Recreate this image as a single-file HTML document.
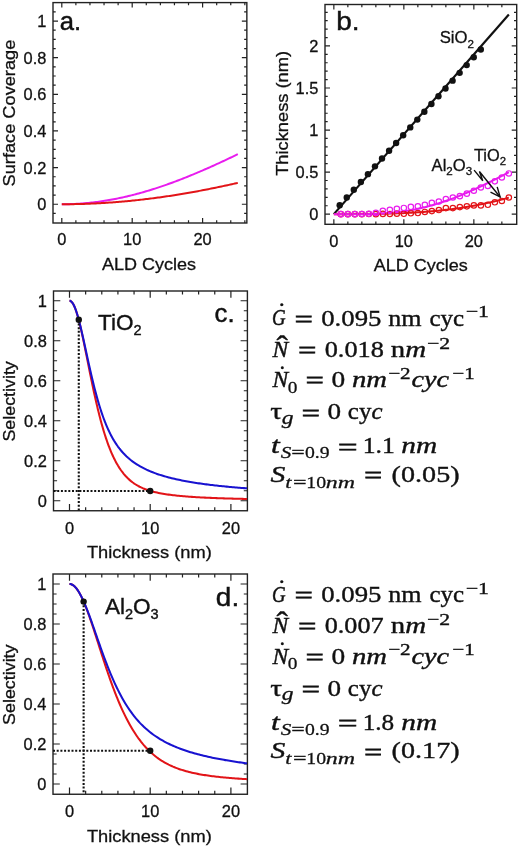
<!DOCTYPE html>
<html><head><meta charset="utf-8"><title>ALD nucleation model figure</title>
<style>
html,body{margin:0;padding:0;background:#fff}
svg{display:block;filter:blur(0.4px)}
.s{font-family:'Liberation Sans', 'DejaVu Sans', sans-serif}
.r{font-family:'Liberation Serif', 'DejaVu Serif', serif}
</style></head><body>
<svg width="520" height="847" viewBox="0 0 520 847">
<rect width="520" height="847" fill="#fff"/>
<rect x="53.0" y="2.6" width="193.85" height="220.4" fill="none" stroke="#222" stroke-width="1.4"/>
<path d="M61.80 223.0v-5.0M61.80 2.6v5.0M75.88 223.0v-2.7M75.88 2.6v2.7M89.96 223.0v-2.7M89.96 2.6v2.7M104.04 223.0v-2.7M104.04 2.6v2.7M118.12 223.0v-2.7M118.12 2.6v2.7M132.20 223.0v-5.0M132.20 2.6v5.0M146.28 223.0v-2.7M146.28 2.6v2.7M160.36 223.0v-2.7M160.36 2.6v2.7M174.44 223.0v-2.7M174.44 2.6v2.7M188.52 223.0v-2.7M188.52 2.6v2.7M202.60 223.0v-5.0M202.60 2.6v5.0M216.68 223.0v-2.7M216.68 2.6v2.7M230.76 223.0v-2.7M230.76 2.6v2.7M244.84 223.0v-2.7M244.84 2.6v2.7M53.0 213.41h2.7M246.85 213.41h-2.7M53.0 204.25h5.0M246.85 204.25h-5.0M53.0 195.09h2.7M246.85 195.09h-2.7M53.0 185.93h2.7M246.85 185.93h-2.7M53.0 176.77h2.7M246.85 176.77h-2.7M53.0 167.61h5.0M246.85 167.61h-5.0M53.0 158.45h2.7M246.85 158.45h-2.7M53.0 149.29h2.7M246.85 149.29h-2.7M53.0 140.13h2.7M246.85 140.13h-2.7M53.0 130.97h5.0M246.85 130.97h-5.0M53.0 121.81h2.7M246.85 121.81h-2.7M53.0 112.65h2.7M246.85 112.65h-2.7M53.0 103.49h2.7M246.85 103.49h-2.7M53.0 94.33h5.0M246.85 94.33h-5.0M53.0 85.17h2.7M246.85 85.17h-2.7M53.0 76.01h2.7M246.85 76.01h-2.7M53.0 66.85h2.7M246.85 66.85h-2.7M53.0 57.69h5.0M246.85 57.69h-5.0M53.0 48.53h2.7M246.85 48.53h-2.7M53.0 39.37h2.7M246.85 39.37h-2.7M53.0 30.21h2.7M246.85 30.21h-2.7M53.0 21.05h5.0M246.85 21.05h-5.0M53.0 11.89h2.7M246.85 11.89h-2.7" stroke="#222" stroke-width="1.2" fill="none"/>
<text class="s" transform="translate(61.80,245.40)" font-size="16.4" text-anchor="middle" fill="#111" stroke="#111" stroke-width="0.30" vector-effect="non-scaling-stroke">0</text>
<text class="s" transform="translate(132.20,245.40)" font-size="16.4" text-anchor="middle" fill="#111" stroke="#111" stroke-width="0.30" vector-effect="non-scaling-stroke">10</text>
<text class="s" transform="translate(202.60,245.40)" font-size="16.4" text-anchor="middle" fill="#111" stroke="#111" stroke-width="0.30" vector-effect="non-scaling-stroke">20</text>
<text class="s" transform="translate(46.40,210.15)" font-size="16.4" text-anchor="end" fill="#111" stroke="#111" stroke-width="0.30" vector-effect="non-scaling-stroke">0</text>
<text class="s" transform="translate(46.40,173.51)" font-size="16.4" text-anchor="end" fill="#111" stroke="#111" stroke-width="0.30" vector-effect="non-scaling-stroke">0.2</text>
<text class="s" transform="translate(46.40,136.87)" font-size="16.4" text-anchor="end" fill="#111" stroke="#111" stroke-width="0.30" vector-effect="non-scaling-stroke">0.4</text>
<text class="s" transform="translate(46.40,100.23)" font-size="16.4" text-anchor="end" fill="#111" stroke="#111" stroke-width="0.30" vector-effect="non-scaling-stroke">0.6</text>
<text class="s" transform="translate(46.40,63.59)" font-size="16.4" text-anchor="end" fill="#111" stroke="#111" stroke-width="0.30" vector-effect="non-scaling-stroke">0.8</text>
<text class="s" transform="translate(46.40,26.95)" font-size="16.4" text-anchor="end" fill="#111" stroke="#111" stroke-width="0.30" vector-effect="non-scaling-stroke">1</text>
<text class="s" transform="translate(101.96,270.00) scale(1.036,1)" font-size="17.4" fill="#111" stroke="#111" stroke-width="0.31" vector-effect="non-scaling-stroke">ALD Cycles</text>
<text class="s" transform="translate(15.10,186.42) rotate(-90) scale(1.047,1)" font-size="17.4" fill="#111" stroke="#111" stroke-width="0.31" vector-effect="non-scaling-stroke">Surface Coverage</text>
<path d="M61.80 204.25L63.28 204.25L64.76 204.23L66.24 204.21L67.72 204.18L69.19 204.15L70.67 204.10L72.15 204.05L73.63 203.99L75.11 203.92L76.59 203.84L78.07 203.75L79.55 203.66L81.03 203.55L82.51 203.44L83.98 203.32L85.46 203.20L86.94 203.06L88.42 202.92L89.90 202.77L91.38 202.61L92.86 202.44L94.34 202.26L95.82 202.08L97.30 201.89L98.77 201.69L100.25 201.48L101.73 201.27L103.21 201.04L104.69 200.81L106.17 200.57L107.65 200.33L109.13 200.07L110.61 199.81L112.09 199.54L113.56 199.26L115.04 198.98L116.52 198.69L118.00 198.39L119.48 198.08L120.96 197.77L122.44 197.44L123.92 197.11L125.40 196.78L126.88 196.43L128.35 196.08L129.83 195.72L131.31 195.36L132.79 194.99L134.27 194.61L135.75 194.22L137.23 193.83L138.71 193.42L140.19 193.02L141.67 192.60L143.14 192.18L144.62 191.76L146.10 191.32L147.58 190.88L149.06 190.43L150.54 189.98L152.02 189.52L153.50 189.06L154.98 188.58L156.46 188.10L157.93 187.62L159.41 187.13L160.89 186.63L162.37 186.13L163.85 185.62L165.33 185.11L166.81 184.59L168.29 184.06L169.77 183.53L171.25 182.99L172.72 182.45L174.20 181.90L175.68 181.35L177.16 180.79L178.64 180.22L180.12 179.66L181.60 179.08L183.08 178.50L184.56 177.92L186.04 177.33L187.51 176.74L188.99 176.14L190.47 175.53L191.95 174.93L193.43 174.31L194.91 173.70L196.39 173.08L197.87 172.45L199.35 171.82L200.83 171.19L202.30 170.55L203.78 169.91L205.26 169.26L206.74 168.61L208.22 167.96L209.70 167.30L211.18 166.64L212.66 165.98L214.14 165.31L215.62 164.64L217.09 163.96L218.57 163.29L220.05 162.61L221.53 161.92L223.01 161.24L224.49 160.55L225.97 159.85L227.45 159.16L228.93 158.46L230.41 157.76L231.88 157.05L233.36 156.35L234.84 155.64L236.32 154.93L237.80 154.22" fill="none" stroke="#e81cee" stroke-width="2.0" stroke-linejoin="round" stroke-linecap="butt"/>
<path d="M61.80 204.25L63.28 204.25L64.76 204.24L66.24 204.24L67.72 204.22L69.19 204.21L70.67 204.19L72.15 204.17L73.63 204.15L75.11 204.12L76.59 204.09L78.07 204.06L79.55 204.02L81.03 203.98L82.51 203.94L83.98 203.89L85.46 203.84L86.94 203.79L88.42 203.73L89.90 203.67L91.38 203.61L92.86 203.54L94.34 203.47L95.82 203.40L97.30 203.33L98.77 203.25L100.25 203.17L101.73 203.08L103.21 203.00L104.69 202.91L106.17 202.81L107.65 202.71L109.13 202.61L110.61 202.51L112.09 202.40L113.56 202.29L115.04 202.18L116.52 202.07L118.00 201.95L119.48 201.83L120.96 201.70L122.44 201.57L123.92 201.44L125.40 201.31L126.88 201.17L128.35 201.03L129.83 200.89L131.31 200.74L132.79 200.59L134.27 200.44L135.75 200.28L137.23 200.12L138.71 199.96L140.19 199.80L141.67 199.63L143.14 199.46L144.62 199.29L146.10 199.11L147.58 198.93L149.06 198.75L150.54 198.56L152.02 198.38L153.50 198.18L154.98 197.99L156.46 197.79L157.93 197.59L159.41 197.39L160.89 197.19L162.37 196.98L163.85 196.77L165.33 196.55L166.81 196.34L168.29 196.12L169.77 195.89L171.25 195.67L172.72 195.44L174.20 195.21L175.68 194.98L177.16 194.74L178.64 194.50L180.12 194.26L181.60 194.02L183.08 193.77L184.56 193.52L186.04 193.27L187.51 193.01L188.99 192.76L190.47 192.50L191.95 192.23L193.43 191.97L194.91 191.70L196.39 191.43L197.87 191.16L199.35 190.88L200.83 190.61L202.30 190.32L203.78 190.04L205.26 189.76L206.74 189.47L208.22 189.18L209.70 188.89L211.18 188.59L212.66 188.29L214.14 187.99L215.62 187.69L217.09 187.39L218.57 187.08L220.05 186.77L221.53 186.46L223.01 186.14L224.49 185.83L225.97 185.51L227.45 185.19L228.93 184.86L230.41 184.54L231.88 184.21L233.36 183.88L234.84 183.55L236.32 183.21L237.80 182.88" fill="none" stroke="#e21418" stroke-width="2.0" stroke-linejoin="round" stroke-linecap="butt"/>
<text class="s" transform="translate(59.67,29.50) scale(0.992,1)" font-size="25.8" fill="#111" stroke="#111" stroke-width="0.46" vector-effect="non-scaling-stroke">a.</text>
<rect x="325.0" y="4.5" width="191.70000000000005" height="219.8" fill="none" stroke="#222" stroke-width="1.4"/>
<path d="M333.85 224.3v-5.0M333.85 4.5v5.0M347.85 224.3v-2.7M347.85 4.5v2.7M361.85 224.3v-2.7M361.85 4.5v2.7M375.85 224.3v-2.7M375.85 4.5v2.7M389.85 224.3v-2.7M389.85 4.5v2.7M403.85 224.3v-5.0M403.85 4.5v5.0M417.85 224.3v-2.7M417.85 4.5v2.7M431.85 224.3v-2.7M431.85 4.5v2.7M445.85 224.3v-2.7M445.85 4.5v2.7M459.85 224.3v-2.7M459.85 4.5v2.7M473.85 224.3v-5.0M473.85 4.5v5.0M487.85 224.3v-2.7M487.85 4.5v2.7M501.85 224.3v-2.7M501.85 4.5v2.7M325.0 214.15h5.0M516.7 214.15h-5.0M325.0 205.74h2.7M516.7 205.74h-2.7M325.0 197.33h2.7M516.7 197.33h-2.7M325.0 188.92h2.7M516.7 188.92h-2.7M325.0 180.51h2.7M516.7 180.51h-2.7M325.0 172.10h5.0M516.7 172.10h-5.0M325.0 163.69h2.7M516.7 163.69h-2.7M325.0 155.28h2.7M516.7 155.28h-2.7M325.0 146.87h2.7M516.7 146.87h-2.7M325.0 138.46h2.7M516.7 138.46h-2.7M325.0 130.05h5.0M516.7 130.05h-5.0M325.0 121.64h2.7M516.7 121.64h-2.7M325.0 113.23h2.7M516.7 113.23h-2.7M325.0 104.82h2.7M516.7 104.82h-2.7M325.0 96.41h2.7M516.7 96.41h-2.7M325.0 88.00h5.0M516.7 88.00h-5.0M325.0 79.59h2.7M516.7 79.59h-2.7M325.0 71.18h2.7M516.7 71.18h-2.7M325.0 62.77h2.7M516.7 62.77h-2.7M325.0 54.36h2.7M516.7 54.36h-2.7M325.0 45.95h5.0M516.7 45.95h-5.0M325.0 37.54h2.7M516.7 37.54h-2.7M325.0 29.13h2.7M516.7 29.13h-2.7M325.0 20.72h2.7M516.7 20.72h-2.7M325.0 12.31h2.7M516.7 12.31h-2.7" stroke="#222" stroke-width="1.2" fill="none"/>
<text class="s" transform="translate(333.85,247.00)" font-size="16.4" text-anchor="middle" fill="#111" stroke="#111" stroke-width="0.30" vector-effect="non-scaling-stroke">0</text>
<text class="s" transform="translate(403.85,247.00)" font-size="16.4" text-anchor="middle" fill="#111" stroke="#111" stroke-width="0.30" vector-effect="non-scaling-stroke">10</text>
<text class="s" transform="translate(473.85,247.00)" font-size="16.4" text-anchor="middle" fill="#111" stroke="#111" stroke-width="0.30" vector-effect="non-scaling-stroke">20</text>
<text class="s" transform="translate(318.40,220.05)" font-size="16.4" text-anchor="end" fill="#111" stroke="#111" stroke-width="0.30" vector-effect="non-scaling-stroke">0</text>
<text class="s" transform="translate(318.40,178.00)" font-size="16.4" text-anchor="end" fill="#111" stroke="#111" stroke-width="0.30" vector-effect="non-scaling-stroke">0.5</text>
<text class="s" transform="translate(318.40,135.95)" font-size="16.4" text-anchor="end" fill="#111" stroke="#111" stroke-width="0.30" vector-effect="non-scaling-stroke">1</text>
<text class="s" transform="translate(318.40,93.90)" font-size="16.4" text-anchor="end" fill="#111" stroke="#111" stroke-width="0.30" vector-effect="non-scaling-stroke">1.5</text>
<text class="s" transform="translate(318.40,51.85)" font-size="16.4" text-anchor="end" fill="#111" stroke="#111" stroke-width="0.30" vector-effect="non-scaling-stroke">2</text>
<text class="s" transform="translate(373.76,271.10) scale(1.036,1)" font-size="17.4" fill="#111" stroke="#111" stroke-width="0.31" vector-effect="non-scaling-stroke">ALD Cycles</text>
<text class="s" transform="translate(288.00,175.80) rotate(-90) scale(1.051,1)" font-size="17.4" fill="#111" stroke="#111" stroke-width="0.31" vector-effect="non-scaling-stroke">Thickness (nm)</text>
<path d="M333.85 214.15L508.85 14.41" fill="none" stroke="#111" stroke-width="2.2" stroke-linejoin="round" stroke-linecap="butt"/>
<circle cx="339.70" cy="205.30" r="3.2" fill="#111"/>
<circle cx="346.75" cy="197.51" r="3.2" fill="#111"/>
<circle cx="353.81" cy="189.72" r="3.2" fill="#111"/>
<circle cx="360.87" cy="181.93" r="3.2" fill="#111"/>
<circle cx="367.92" cy="174.14" r="3.2" fill="#111"/>
<circle cx="374.97" cy="166.35" r="3.2" fill="#111"/>
<circle cx="382.03" cy="158.56" r="3.2" fill="#111"/>
<circle cx="389.08" cy="150.77" r="3.2" fill="#111"/>
<circle cx="396.14" cy="142.98" r="3.2" fill="#111"/>
<circle cx="403.19" cy="135.19" r="3.2" fill="#111"/>
<circle cx="410.25" cy="127.40" r="3.2" fill="#111"/>
<circle cx="417.30" cy="119.61" r="3.2" fill="#111"/>
<circle cx="424.36" cy="111.82" r="3.2" fill="#111"/>
<circle cx="431.41" cy="104.03" r="3.2" fill="#111"/>
<circle cx="438.47" cy="96.24" r="3.2" fill="#111"/>
<circle cx="445.52" cy="88.45" r="3.2" fill="#111"/>
<circle cx="452.58" cy="80.66" r="3.2" fill="#111"/>
<circle cx="459.63" cy="72.87" r="3.2" fill="#111"/>
<circle cx="466.69" cy="65.08" r="3.2" fill="#111"/>
<circle cx="473.75" cy="57.29" r="3.2" fill="#111"/>
<circle cx="480.80" cy="49.50" r="3.2" fill="#111"/>
<path d="M333.85 214.15L335.32 214.15L336.79 214.15L338.26 214.15L339.73 214.15L341.20 214.15L342.67 214.15L344.14 214.15L345.61 214.14L347.09 214.14L348.56 214.14L350.03 214.14L351.50 214.13L352.97 214.13L354.44 214.12L355.91 214.12L357.38 214.11L358.85 214.10L360.32 214.09L361.79 214.08L363.26 214.07L364.73 214.06L366.20 214.05L367.67 214.03L369.14 214.01L370.61 214.00L372.09 213.98L373.56 213.96L375.03 213.93L376.50 213.91L377.97 213.89L379.44 213.86L380.91 213.83L382.38 213.80L383.85 213.76L385.32 213.73L386.79 213.69L388.26 213.65L389.73 213.61L391.20 213.57L392.67 213.52L394.14 213.47L395.61 213.42L397.09 213.37L398.56 213.32L400.03 213.26L401.50 213.20L402.97 213.13L404.44 213.07L405.91 213.00L407.38 212.92L408.85 212.85L410.32 212.77L411.79 212.69L413.26 212.61L414.73 212.52L416.20 212.43L417.67 212.33L419.14 212.24L420.61 212.14L422.09 212.03L423.56 211.93L425.03 211.81L426.50 211.70L427.97 211.58L429.44 211.46L430.91 211.33L432.38 211.20L433.85 211.07L435.32 210.93L436.79 210.79L438.26 210.64L439.73 210.49L441.20 210.34L442.67 210.18L444.14 210.01L445.61 209.85L447.09 209.68L448.56 209.50L450.03 209.32L451.50 209.13L452.97 208.94L454.44 208.75L455.91 208.55L457.38 208.34L458.85 208.13L460.32 207.92L461.79 207.70L463.26 207.47L464.73 207.24L466.20 207.00L467.67 206.76L469.14 206.52L470.61 206.27L472.09 206.01L473.56 205.75L475.03 205.48L476.50 205.20L477.97 204.92L479.44 204.64L480.91 204.35L482.38 204.05L483.85 203.75L485.32 203.44L486.79 203.12L488.26 202.80L489.73 202.48L491.20 202.14L492.67 201.80L494.14 201.46L495.61 201.10L497.09 200.74L498.56 200.38L500.03 200.01L501.50 199.63L502.97 199.24L504.44 198.85L505.91 198.45L507.38 198.05L508.85 197.63" fill="none" stroke="#e21418" stroke-width="2.0" stroke-linejoin="round" stroke-linecap="butt"/>
<path d="M333.85 214.15L335.32 214.15L336.79 214.15L338.26 214.15L339.73 214.15L341.20 214.15L342.67 214.15L344.14 214.15L345.61 214.15L347.09 214.15L348.56 214.15L350.03 214.15L351.50 214.15L352.97 214.15L354.44 214.15L355.91 214.15L357.38 214.15L358.85 214.15L360.32 214.15L361.79 214.15L363.26 214.15L364.73 214.15L366.20 214.15L367.67 214.14L369.14 214.11L370.61 214.07L372.09 214.02L373.56 213.97L375.03 213.92L376.50 213.85L377.97 213.78L379.44 213.71L380.91 213.63L382.38 213.54L383.85 213.44L385.32 213.33L386.79 213.22L388.26 213.10L389.73 212.97L391.20 212.84L392.67 212.69L394.14 212.54L395.61 212.37L397.09 212.20L398.56 212.02L400.03 211.83L401.50 211.64L402.97 211.43L404.44 211.21L405.91 210.98L407.38 210.75L408.85 210.50L410.32 210.24L411.79 209.98L413.26 209.70L414.73 209.41L416.20 209.12L417.67 208.81L419.14 208.49L420.61 208.16L422.09 207.83L423.56 207.48L425.03 207.12L426.50 206.75L427.97 206.37L429.44 205.98L430.91 205.58L432.38 205.17L433.85 204.75L435.32 204.32L436.79 203.88L438.26 203.43L439.73 202.97L441.20 202.50L442.67 202.01L444.14 201.52L445.61 201.02L447.09 200.51L448.56 199.99L450.03 199.46L451.50 198.92L452.97 198.37L454.44 197.81L455.91 197.24L457.38 196.66L458.85 196.08L460.32 195.48L461.79 194.88L463.26 194.27L464.73 193.65L466.20 193.02L467.67 192.38L469.14 191.74L470.61 191.09L472.09 190.43L473.56 189.76L475.03 189.09L476.50 188.41L477.97 187.72L479.44 187.03L480.91 186.33L482.38 185.62L483.85 184.91L485.32 184.19L486.79 183.47L488.26 182.75L489.73 182.01L491.20 181.28L492.67 180.54L494.14 179.80L495.61 179.05L497.09 178.30L498.56 177.55L500.03 176.79L501.50 176.04L502.97 175.28L504.44 174.52L505.91 173.76L507.38 172.99L508.85 172.23" fill="none" stroke="#e81cee" stroke-width="2.0" stroke-linejoin="round" stroke-linecap="butt"/>
<circle cx="340.85" cy="214.15" r="2.7" fill="none" stroke="#e21418" stroke-width="1.2"/>
<circle cx="347.85" cy="214.15" r="2.7" fill="none" stroke="#e21418" stroke-width="1.2"/>
<circle cx="354.85" cy="214.15" r="2.7" fill="none" stroke="#e21418" stroke-width="1.2"/>
<circle cx="361.85" cy="214.15" r="2.7" fill="none" stroke="#e21418" stroke-width="1.2"/>
<circle cx="368.85" cy="213.98" r="2.7" fill="none" stroke="#e21418" stroke-width="1.2"/>
<circle cx="375.85" cy="214.15" r="2.7" fill="none" stroke="#e21418" stroke-width="1.2"/>
<circle cx="382.85" cy="213.90" r="2.7" fill="none" stroke="#e21418" stroke-width="1.2"/>
<circle cx="389.85" cy="213.98" r="2.7" fill="none" stroke="#e21418" stroke-width="1.2"/>
<circle cx="396.85" cy="213.65" r="2.7" fill="none" stroke="#e21418" stroke-width="1.2"/>
<circle cx="403.85" cy="213.81" r="2.7" fill="none" stroke="#e21418" stroke-width="1.2"/>
<circle cx="410.85" cy="213.31" r="2.7" fill="none" stroke="#e21418" stroke-width="1.2"/>
<circle cx="417.85" cy="213.06" r="2.7" fill="none" stroke="#e21418" stroke-width="1.2"/>
<circle cx="424.85" cy="211.96" r="2.7" fill="none" stroke="#e21418" stroke-width="1.2"/>
<circle cx="431.85" cy="211.12" r="2.7" fill="none" stroke="#e21418" stroke-width="1.2"/>
<circle cx="438.85" cy="210.03" r="2.7" fill="none" stroke="#e21418" stroke-width="1.2"/>
<circle cx="445.85" cy="208.09" r="2.7" fill="none" stroke="#e21418" stroke-width="1.2"/>
<circle cx="452.85" cy="208.09" r="2.7" fill="none" stroke="#e21418" stroke-width="1.2"/>
<circle cx="459.85" cy="207.09" r="2.7" fill="none" stroke="#e21418" stroke-width="1.2"/>
<circle cx="466.85" cy="206.33" r="2.7" fill="none" stroke="#e21418" stroke-width="1.2"/>
<circle cx="473.85" cy="205.40" r="2.7" fill="none" stroke="#e21418" stroke-width="1.2"/>
<circle cx="480.85" cy="205.40" r="2.7" fill="none" stroke="#e21418" stroke-width="1.2"/>
<circle cx="487.85" cy="204.81" r="2.7" fill="none" stroke="#e21418" stroke-width="1.2"/>
<circle cx="494.85" cy="202.29" r="2.7" fill="none" stroke="#e21418" stroke-width="1.2"/>
<circle cx="501.85" cy="200.95" r="2.7" fill="none" stroke="#e21418" stroke-width="1.2"/>
<circle cx="508.85" cy="197.50" r="2.7" fill="none" stroke="#e21418" stroke-width="1.2"/>
<circle cx="340.85" cy="214.15" r="2.7" fill="none" stroke="#e81cee" stroke-width="1.2"/>
<circle cx="347.85" cy="214.15" r="2.7" fill="none" stroke="#e81cee" stroke-width="1.2"/>
<circle cx="354.85" cy="214.15" r="2.7" fill="none" stroke="#e81cee" stroke-width="1.2"/>
<circle cx="361.85" cy="213.98" r="2.7" fill="none" stroke="#e81cee" stroke-width="1.2"/>
<circle cx="368.85" cy="213.73" r="2.7" fill="none" stroke="#e81cee" stroke-width="1.2"/>
<circle cx="375.85" cy="212.89" r="2.7" fill="none" stroke="#e81cee" stroke-width="1.2"/>
<circle cx="382.85" cy="210.79" r="2.7" fill="none" stroke="#e81cee" stroke-width="1.2"/>
<circle cx="389.85" cy="209.78" r="2.7" fill="none" stroke="#e81cee" stroke-width="1.2"/>
<circle cx="396.85" cy="208.85" r="2.7" fill="none" stroke="#e81cee" stroke-width="1.2"/>
<circle cx="403.85" cy="207.93" r="2.7" fill="none" stroke="#e81cee" stroke-width="1.2"/>
<circle cx="410.85" cy="206.92" r="2.7" fill="none" stroke="#e81cee" stroke-width="1.2"/>
<circle cx="417.85" cy="206.24" r="2.7" fill="none" stroke="#e81cee" stroke-width="1.2"/>
<circle cx="424.85" cy="204.90" r="2.7" fill="none" stroke="#e81cee" stroke-width="1.2"/>
<circle cx="431.85" cy="202.88" r="2.7" fill="none" stroke="#e81cee" stroke-width="1.2"/>
<circle cx="438.85" cy="201.53" r="2.7" fill="none" stroke="#e81cee" stroke-width="1.2"/>
<circle cx="445.85" cy="199.01" r="2.7" fill="none" stroke="#e81cee" stroke-width="1.2"/>
<circle cx="452.85" cy="197.50" r="2.7" fill="none" stroke="#e81cee" stroke-width="1.2"/>
<circle cx="459.85" cy="196.15" r="2.7" fill="none" stroke="#e81cee" stroke-width="1.2"/>
<circle cx="466.85" cy="193.63" r="2.7" fill="none" stroke="#e81cee" stroke-width="1.2"/>
<circle cx="473.85" cy="190.77" r="2.7" fill="none" stroke="#e81cee" stroke-width="1.2"/>
<circle cx="480.85" cy="187.49" r="2.7" fill="none" stroke="#e81cee" stroke-width="1.2"/>
<circle cx="487.85" cy="185.98" r="2.7" fill="none" stroke="#e81cee" stroke-width="1.2"/>
<circle cx="494.85" cy="181.35" r="2.7" fill="none" stroke="#e81cee" stroke-width="1.2"/>
<circle cx="501.85" cy="177.48" r="2.7" fill="none" stroke="#e81cee" stroke-width="1.2"/>
<circle cx="508.85" cy="173.45" r="2.7" fill="none" stroke="#e81cee" stroke-width="1.2"/>
<text class="s" transform="translate(336.21,29.50) scale(1.085,1)" font-size="25.8" fill="#111" stroke="#111" stroke-width="0.46" vector-effect="non-scaling-stroke">b.</text>
<text class="s" transform="translate(439.65,43.40) scale(1.058,1)" font-size="15.8" fill="#111" stroke="#111" stroke-width="0.28" vector-effect="non-scaling-stroke">SiO<tspan font-size="11.0" dy="4.20">2</tspan></text>
<text class="s" transform="translate(473.94,161.20) scale(1.037,1)" font-size="15.8" fill="#111" stroke="#111" stroke-width="0.28" vector-effect="non-scaling-stroke">TiO<tspan font-size="11.0" dy="4.20">2</tspan></text>
<text class="s" transform="translate(431.57,171.10) scale(1.053,1)" font-size="15.8" fill="#111" stroke="#111" stroke-width="0.28" vector-effect="non-scaling-stroke">Al<tspan font-size="11.0" dy="4.00">2</tspan><tspan dy="-4.00">O</tspan><tspan font-size="11.0" dy="4.00">3</tspan></text>
<path d="M474.1 170.1L482.8 180.7L479.4 171.5L500.1 197" fill="none" stroke="#111" stroke-width="1.4" stroke-linejoin="miter"/>
<path d="M490.5 192.2L500.1 197L497.2 186.9" fill="none" stroke="#111" stroke-width="1.4"/>
<rect x="53.5" y="291.0" width="193.9" height="219.75" fill="none" stroke="#222" stroke-width="1.4"/>
<path d="M69.50 510.75v-6.8M69.50 291.0v6.8M85.64 510.75v-3.6M85.64 291.0v3.6M101.78 510.75v-3.6M101.78 291.0v3.6M117.92 510.75v-3.6M117.92 291.0v3.6M134.06 510.75v-3.6M134.06 291.0v3.6M150.20 510.75v-6.8M150.20 291.0v6.8M166.34 510.75v-3.6M166.34 291.0v3.6M182.48 510.75v-3.6M182.48 291.0v3.6M198.62 510.75v-3.6M198.62 291.0v3.6M214.76 510.75v-3.6M214.76 291.0v3.6M230.90 510.75v-6.8M230.90 291.0v6.8M53.5 500.75h6.8M247.4 500.75h-6.8M53.5 490.75h3.6M247.4 490.75h-3.6M53.5 480.75h3.6M247.4 480.75h-3.6M53.5 470.75h3.6M247.4 470.75h-3.6M53.5 460.75h6.8M247.4 460.75h-6.8M53.5 450.75h3.6M247.4 450.75h-3.6M53.5 440.75h3.6M247.4 440.75h-3.6M53.5 430.75h3.6M247.4 430.75h-3.6M53.5 420.75h6.8M247.4 420.75h-6.8M53.5 410.75h3.6M247.4 410.75h-3.6M53.5 400.75h3.6M247.4 400.75h-3.6M53.5 390.75h3.6M247.4 390.75h-3.6M53.5 380.75h6.8M247.4 380.75h-6.8M53.5 370.75h3.6M247.4 370.75h-3.6M53.5 360.75h3.6M247.4 360.75h-3.6M53.5 350.75h3.6M247.4 350.75h-3.6M53.5 340.75h6.8M247.4 340.75h-6.8M53.5 330.75h3.6M247.4 330.75h-3.6M53.5 320.75h3.6M247.4 320.75h-3.6M53.5 310.75h3.6M247.4 310.75h-3.6M53.5 300.75h6.8M247.4 300.75h-6.8" stroke="#222" stroke-width="1.2" fill="none"/>
<text class="s" transform="translate(69.50,533.60)" font-size="16.4" text-anchor="middle" fill="#111" stroke="#111" stroke-width="0.30" vector-effect="non-scaling-stroke">0</text>
<text class="s" transform="translate(150.20,533.60)" font-size="16.4" text-anchor="middle" fill="#111" stroke="#111" stroke-width="0.30" vector-effect="non-scaling-stroke">10</text>
<text class="s" transform="translate(230.90,533.60)" font-size="16.4" text-anchor="middle" fill="#111" stroke="#111" stroke-width="0.30" vector-effect="non-scaling-stroke">20</text>
<text class="s" transform="translate(46.90,506.65)" font-size="16.4" text-anchor="end" fill="#111" stroke="#111" stroke-width="0.30" vector-effect="non-scaling-stroke">0</text>
<text class="s" transform="translate(46.90,466.65)" font-size="16.4" text-anchor="end" fill="#111" stroke="#111" stroke-width="0.30" vector-effect="non-scaling-stroke">0.2</text>
<text class="s" transform="translate(46.90,426.65)" font-size="16.4" text-anchor="end" fill="#111" stroke="#111" stroke-width="0.30" vector-effect="non-scaling-stroke">0.4</text>
<text class="s" transform="translate(46.90,386.65)" font-size="16.4" text-anchor="end" fill="#111" stroke="#111" stroke-width="0.30" vector-effect="non-scaling-stroke">0.6</text>
<text class="s" transform="translate(46.90,346.65)" font-size="16.4" text-anchor="end" fill="#111" stroke="#111" stroke-width="0.30" vector-effect="non-scaling-stroke">0.8</text>
<text class="s" transform="translate(46.90,306.65)" font-size="16.4" text-anchor="end" fill="#111" stroke="#111" stroke-width="0.30" vector-effect="non-scaling-stroke">1</text>
<clipPath id="cpc"><rect x="53.5" y="291.0" width="193.9" height="219.75"/></clipPath>
<g clip-path="url(#cpc)">
<path d="M69.50 300.75L70.04 300.82L70.59 301.04L71.13 301.40L71.68 301.90L72.22 302.54L72.76 303.32L73.31 304.24L73.85 305.28L74.40 306.46L74.94 307.76L75.48 309.18L76.03 310.72L76.57 312.37L77.12 314.13L77.66 315.99L78.20 317.95L78.75 319.99L79.29 322.12L79.84 324.33L80.38 326.61L80.92 328.96L81.47 331.37L82.01 333.83L82.56 336.35L83.10 338.91L83.65 341.51L84.19 344.14L84.73 346.80L85.28 349.48L85.82 352.18L86.37 354.90L86.91 357.62L87.45 360.35L88.00 363.08L88.54 365.81L89.09 368.53L89.63 371.24L90.17 373.93L90.72 376.61L91.26 379.27L91.81 381.91L92.35 384.52L92.89 387.11L93.44 389.66L93.98 392.19L94.53 394.68L95.07 397.14L95.61 399.57L96.16 401.96L96.70 404.31L97.25 406.62L97.79 408.90L98.33 411.13L98.88 413.32L99.42 415.48L99.97 417.59L100.51 419.66L101.05 421.69L101.60 423.67L102.14 425.62L102.69 427.52L103.23 429.38L103.77 431.20L104.32 432.98L104.86 434.72L105.41 436.42L105.95 438.08L106.50 439.70L107.04 441.27L107.58 442.81L108.13 444.32L108.67 445.78L109.22 447.21L109.76 448.60L110.30 449.96L110.85 451.28L111.39 452.56L111.94 453.81L112.48 455.03L113.02 456.22L113.57 457.37L114.11 458.49L114.66 459.58L115.20 460.64L115.74 461.67L116.29 462.68L116.83 463.65L117.38 464.60L117.92 465.52L119.37 467.84L120.82 470.00L122.27 471.99L123.72 473.83L125.17 475.52L126.62 477.09L128.08 478.54L129.53 479.87L130.98 481.10L132.43 482.23L133.88 483.28L135.33 484.25L136.78 485.14L138.23 485.97L139.68 486.73L141.13 487.44L142.58 488.10L144.03 488.70L145.48 489.27L146.94 489.79L148.39 490.28L149.84 490.74L151.29 491.16L152.74 491.56L154.19 491.93L155.64 492.28L157.09 492.60L158.54 492.91L159.99 493.20L161.44 493.47L162.89 493.73L164.35 493.97L165.80 494.20L167.25 494.42L168.70 494.62L170.15 494.82L171.60 495.00L173.05 495.18L174.50 495.35L175.95 495.51L177.40 495.66L178.85 495.81L180.30 495.95L181.75 496.08L183.21 496.21L184.66 496.33L186.11 496.45L187.56 496.56L189.01 496.67L190.46 496.77L191.91 496.87L193.36 496.97L194.81 497.06L196.26 497.15L197.71 497.24L199.16 497.32L200.61 497.40L202.07 497.48L203.52 497.55L204.97 497.62L206.42 497.69L207.87 497.76L209.32 497.82L210.77 497.89L212.22 497.95L213.67 498.00L215.12 498.06L216.57 498.12L218.02 498.17L219.48 498.22L220.93 498.27L222.38 498.32L223.83 498.37L225.28 498.41L226.73 498.46L228.18 498.50L229.63 498.54L231.08 498.58L232.53 498.62L233.98 498.66L235.43 498.70L236.88 498.74L238.34 498.77L239.79 498.81L241.24 498.84L242.69 498.87L244.14 498.90L245.59 498.94L247.04 498.97" fill="none" stroke="#e21418" stroke-width="2.05" stroke-linejoin="round" stroke-linecap="butt"/>
<path d="M69.50 300.75L70.04 300.82L70.59 301.04L71.13 301.40L71.68 301.90L72.22 302.54L72.76 303.32L73.31 304.23L73.85 305.27L74.40 306.44L74.94 307.73L75.48 309.13L76.03 310.65L76.57 312.27L77.12 314.00L77.66 315.82L78.20 317.72L78.75 319.71L79.29 321.78L79.84 323.91L80.38 326.11L80.92 328.36L81.47 330.67L82.01 333.02L82.56 335.40L83.10 337.82L83.65 340.27L84.19 342.74L84.73 345.22L85.28 347.72L85.82 350.22L86.37 352.72L86.91 355.22L87.45 357.71L88.00 360.20L88.54 362.67L89.09 365.12L89.63 367.55L90.17 369.96L90.72 372.34L91.26 374.70L91.81 377.03L92.35 379.32L92.89 381.58L93.44 383.81L93.98 386.00L94.53 388.16L95.07 390.27L95.61 392.35L96.16 394.39L96.70 396.39L97.25 398.35L97.79 400.27L98.33 402.14L98.88 403.98L99.42 405.78L99.97 407.54L100.51 409.25L101.05 410.93L101.60 412.57L102.14 414.17L102.69 415.73L103.23 417.25L103.77 418.74L104.32 420.19L104.86 421.60L105.41 422.98L105.95 424.32L106.50 425.63L107.04 426.90L107.58 428.14L108.13 429.36L108.67 430.53L109.22 431.68L109.76 432.80L110.30 433.89L110.85 434.96L111.39 435.99L111.94 437.00L112.48 437.98L113.02 438.94L113.57 439.87L114.11 440.78L114.66 441.66L115.20 442.53L115.74 443.37L116.29 444.19L116.83 444.98L117.38 445.76L117.92 446.52L119.37 448.45L120.82 450.26L122.27 451.96L123.72 453.55L125.17 455.05L126.62 456.45L128.08 457.78L129.53 459.03L130.98 460.21L132.43 461.32L133.88 462.38L135.33 463.38L136.78 464.33L138.23 465.24L139.68 466.10L141.13 466.92L142.58 467.70L144.03 468.45L145.48 469.16L146.94 469.85L148.39 470.50L149.84 471.13L151.29 471.73L152.74 472.31L154.19 472.86L155.64 473.40L157.09 473.91L158.54 474.41L159.99 474.88L161.44 475.34L162.89 475.79L164.35 476.22L165.80 476.63L167.25 477.03L168.70 477.42L170.15 477.79L171.60 478.16L173.05 478.51L174.50 478.85L175.95 479.18L177.40 479.50L178.85 479.81L180.30 480.11L181.75 480.41L183.21 480.69L184.66 480.97L186.11 481.24L187.56 481.50L189.01 481.76L190.46 482.01L191.91 482.25L193.36 482.49L194.81 482.72L196.26 482.94L197.71 483.16L199.16 483.38L200.61 483.58L202.07 483.79L203.52 483.99L204.97 484.18L206.42 484.37L207.87 484.56L209.32 484.74L210.77 484.92L212.22 485.09L213.67 485.26L215.12 485.43L216.57 485.59L218.02 485.75L219.48 485.90L220.93 486.06L222.38 486.21L223.83 486.35L225.28 486.50L226.73 486.64L228.18 486.77L229.63 486.91L231.08 487.04L232.53 487.17L233.98 487.30L235.43 487.43L236.88 487.55L238.34 487.67L239.79 487.79L241.24 487.91L242.69 488.02L244.14 488.13L245.59 488.24L247.04 488.35" fill="none" stroke="#1812d0" stroke-width="2.05" stroke-linejoin="round" stroke-linecap="butt"/>
</g>
<path d="M78.78 319.75V510.75" stroke="#111" stroke-width="2.1" stroke-dasharray="2 1.7" fill="none"/>
<path d="M53.5 490.95H150.20" stroke="#111" stroke-width="2.1" stroke-dasharray="2 1.7" fill="none"/>
<circle cx="78.78" cy="319.75" r="3.2" fill="#111"/>
<circle cx="150.20" cy="490.95" r="3.2" fill="#111"/>
<text class="s" transform="translate(86.90,557.90) scale(1.051,1)" font-size="17.4" fill="#111" stroke="#111" stroke-width="0.31" vector-effect="non-scaling-stroke">Thickness (nm)</text>
<text class="s" transform="translate(15.30,441.60) rotate(-90) scale(1.027,1)" font-size="17.4" fill="#111" stroke="#111" stroke-width="0.31" vector-effect="non-scaling-stroke">Selectivity</text>
<text class="s" transform="translate(214.62,321.50) scale(0.998,1)" font-size="25.8" fill="#111" stroke="#111" stroke-width="0.46" vector-effect="non-scaling-stroke">c.</text>
<text class="s" transform="translate(98.00,329.50) scale(1.038,1)" font-size="21.7" fill="#111" stroke="#111" stroke-width="0.39" vector-effect="non-scaling-stroke">TiO<tspan font-size="14.0" dy="5.70">2</tspan></text>
<rect x="53.0" y="574.0" width="194.4" height="220.25" fill="none" stroke="#222" stroke-width="1.4"/>
<path d="M69.50 794.25v-6.8M69.50 574.0v6.8M85.64 794.25v-3.6M85.64 574.0v3.6M101.78 794.25v-3.6M101.78 574.0v3.6M117.92 794.25v-3.6M117.92 574.0v3.6M134.06 794.25v-3.6M134.06 574.0v3.6M150.20 794.25v-6.8M150.20 574.0v6.8M166.34 794.25v-3.6M166.34 574.0v3.6M182.48 794.25v-3.6M182.48 574.0v3.6M198.62 794.25v-3.6M198.62 574.0v3.6M214.76 794.25v-3.6M214.76 574.0v3.6M230.90 794.25v-6.8M230.90 574.0v6.8M53.0 784.00h6.8M247.4 784.00h-6.8M53.0 774.00h3.6M247.4 774.00h-3.6M53.0 764.00h3.6M247.4 764.00h-3.6M53.0 754.00h3.6M247.4 754.00h-3.6M53.0 744.00h6.8M247.4 744.00h-6.8M53.0 734.00h3.6M247.4 734.00h-3.6M53.0 724.00h3.6M247.4 724.00h-3.6M53.0 714.00h3.6M247.4 714.00h-3.6M53.0 704.00h6.8M247.4 704.00h-6.8M53.0 694.00h3.6M247.4 694.00h-3.6M53.0 684.00h3.6M247.4 684.00h-3.6M53.0 674.00h3.6M247.4 674.00h-3.6M53.0 664.00h6.8M247.4 664.00h-6.8M53.0 654.00h3.6M247.4 654.00h-3.6M53.0 644.00h3.6M247.4 644.00h-3.6M53.0 634.00h3.6M247.4 634.00h-3.6M53.0 624.00h6.8M247.4 624.00h-6.8M53.0 614.00h3.6M247.4 614.00h-3.6M53.0 604.00h3.6M247.4 604.00h-3.6M53.0 594.00h3.6M247.4 594.00h-3.6M53.0 584.00h6.8M247.4 584.00h-6.8" stroke="#222" stroke-width="1.2" fill="none"/>
<text class="s" transform="translate(69.50,817.10)" font-size="16.4" text-anchor="middle" fill="#111" stroke="#111" stroke-width="0.30" vector-effect="non-scaling-stroke">0</text>
<text class="s" transform="translate(150.20,817.10)" font-size="16.4" text-anchor="middle" fill="#111" stroke="#111" stroke-width="0.30" vector-effect="non-scaling-stroke">10</text>
<text class="s" transform="translate(230.90,817.10)" font-size="16.4" text-anchor="middle" fill="#111" stroke="#111" stroke-width="0.30" vector-effect="non-scaling-stroke">20</text>
<text class="s" transform="translate(46.40,789.90)" font-size="16.4" text-anchor="end" fill="#111" stroke="#111" stroke-width="0.30" vector-effect="non-scaling-stroke">0</text>
<text class="s" transform="translate(46.40,749.90)" font-size="16.4" text-anchor="end" fill="#111" stroke="#111" stroke-width="0.30" vector-effect="non-scaling-stroke">0.2</text>
<text class="s" transform="translate(46.40,709.90)" font-size="16.4" text-anchor="end" fill="#111" stroke="#111" stroke-width="0.30" vector-effect="non-scaling-stroke">0.4</text>
<text class="s" transform="translate(46.40,669.90)" font-size="16.4" text-anchor="end" fill="#111" stroke="#111" stroke-width="0.30" vector-effect="non-scaling-stroke">0.6</text>
<text class="s" transform="translate(46.40,629.90)" font-size="16.4" text-anchor="end" fill="#111" stroke="#111" stroke-width="0.30" vector-effect="non-scaling-stroke">0.8</text>
<text class="s" transform="translate(46.40,589.90)" font-size="16.4" text-anchor="end" fill="#111" stroke="#111" stroke-width="0.30" vector-effect="non-scaling-stroke">1</text>
<clipPath id="cpd"><rect x="53.0" y="574.0" width="194.4" height="220.25"/></clipPath>
<g clip-path="url(#cpd)">
<path d="M69.50 584.00L70.04 584.03L70.59 584.11L71.13 584.25L71.68 584.45L72.22 584.70L72.76 585.01L73.31 585.37L73.85 585.78L74.40 586.25L74.94 586.77L75.48 587.35L76.03 587.98L76.57 588.65L77.12 589.38L77.66 590.16L78.20 590.98L78.75 591.85L79.29 592.77L79.84 593.73L80.38 594.74L80.92 595.79L81.47 596.88L82.01 598.01L82.56 599.18L83.10 600.38L83.65 601.63L84.19 602.90L84.73 604.21L85.28 605.55L85.82 606.93L86.37 608.33L86.91 609.76L87.45 611.21L88.00 612.69L88.54 614.20L89.09 615.72L89.63 617.27L90.17 618.83L90.72 620.42L91.26 622.02L91.81 623.63L92.35 625.26L92.89 626.90L93.44 628.55L93.98 630.22L94.53 631.89L95.07 633.57L95.61 635.25L96.16 636.94L96.70 638.64L97.25 640.34L97.79 642.04L98.33 643.74L98.88 645.44L99.42 647.15L99.97 648.85L100.51 650.54L101.05 652.24L101.60 653.93L102.14 655.61L102.69 657.29L103.23 658.96L103.77 660.63L104.32 662.28L104.86 663.93L105.41 665.57L105.95 667.20L106.50 668.82L107.04 670.43L107.58 672.03L108.13 673.61L108.67 675.19L109.22 676.75L109.76 678.30L110.30 679.83L110.85 681.35L111.39 682.86L111.94 684.36L112.48 685.84L113.02 687.30L113.57 688.75L114.11 690.18L114.66 691.60L115.20 693.01L115.74 694.40L116.29 695.77L116.83 697.12L117.38 698.47L117.92 699.79L119.37 703.24L120.82 706.58L122.27 709.81L123.72 712.91L125.17 715.91L126.62 718.79L128.08 721.56L129.53 724.22L130.98 726.77L132.43 729.22L133.88 731.57L135.33 733.81L136.78 735.96L138.23 738.02L139.68 739.98L141.13 741.86L142.58 743.65L144.03 745.36L145.48 746.99L146.94 748.55L148.39 750.03L149.84 751.44L151.29 752.79L152.74 754.07L154.19 755.29L155.64 756.45L157.09 757.56L158.54 758.61L159.99 759.61L161.44 760.56L162.89 761.46L164.35 762.32L165.80 763.14L167.25 763.92L168.70 764.66L170.15 765.36L171.60 766.03L173.05 766.67L174.50 767.27L175.95 767.85L177.40 768.40L178.85 768.92L180.30 769.42L181.75 769.89L183.21 770.34L184.66 770.77L186.11 771.19L187.56 771.58L189.01 771.95L190.46 772.31L191.91 772.65L193.36 772.97L194.81 773.29L196.26 773.58L197.71 773.87L199.16 774.14L200.61 774.40L202.07 774.65L203.52 774.89L204.97 775.13L206.42 775.35L207.87 775.56L209.32 775.76L210.77 775.96L212.22 776.15L213.67 776.33L215.12 776.51L216.57 776.68L218.02 776.84L219.48 777.00L220.93 777.15L222.38 777.30L223.83 777.44L225.28 777.58L226.73 777.71L228.18 777.84L229.63 777.96L231.08 778.08L232.53 778.20L233.98 778.31L235.43 778.42L236.88 778.53L238.34 778.63L239.79 778.73L241.24 778.83L242.69 778.92L244.14 779.01L245.59 779.10L247.04 779.19" fill="none" stroke="#e21418" stroke-width="2.05" stroke-linejoin="round" stroke-linecap="butt"/>
<path d="M69.50 584.00L70.04 584.03L70.59 584.11L71.13 584.25L71.68 584.45L72.22 584.70L72.76 585.01L73.31 585.37L73.85 585.78L74.40 586.25L74.94 586.77L75.48 587.34L76.03 587.96L76.57 588.64L77.12 589.36L77.66 590.13L78.20 590.95L78.75 591.81L79.29 592.71L79.84 593.66L80.38 594.65L80.92 595.68L81.47 596.75L82.01 597.86L82.56 599.00L83.10 600.18L83.65 601.39L84.19 602.63L84.73 603.91L85.28 605.21L85.82 606.53L86.37 607.89L86.91 609.26L87.45 610.66L88.00 612.08L88.54 613.52L89.09 614.97L89.63 616.44L90.17 617.93L90.72 619.43L91.26 620.94L91.81 622.46L92.35 623.99L92.89 625.53L93.44 627.08L93.98 628.63L94.53 630.18L95.07 631.74L95.61 633.30L96.16 634.86L96.70 636.42L97.25 637.98L97.79 639.54L98.33 641.09L98.88 642.64L99.42 644.19L99.97 645.72L100.51 647.26L101.05 648.78L101.60 650.30L102.14 651.81L102.69 653.31L103.23 654.80L103.77 656.27L104.32 657.74L104.86 659.20L105.41 660.64L105.95 662.07L106.50 663.49L107.04 664.90L107.58 666.29L108.13 667.67L108.67 669.03L109.22 670.39L109.76 671.72L110.30 673.04L110.85 674.35L111.39 675.64L111.94 676.91L112.48 678.17L113.02 679.42L113.57 680.65L114.11 681.86L114.66 683.06L115.20 684.24L115.74 685.41L116.29 686.56L116.83 687.69L117.38 688.81L117.92 689.91L119.37 692.78L120.82 695.54L122.27 698.19L123.72 700.73L125.17 703.17L126.62 705.51L128.08 707.76L129.53 709.91L130.98 711.96L132.43 713.94L133.88 715.82L135.33 717.63L136.78 719.36L138.23 721.02L139.68 722.61L141.13 724.13L142.58 725.58L144.03 726.97L145.48 728.31L146.94 729.59L148.39 730.82L149.84 732.00L151.29 733.13L152.74 734.21L154.19 735.26L155.64 736.26L157.09 737.22L158.54 738.15L159.99 739.04L161.44 739.90L162.89 740.73L164.35 741.53L165.80 742.30L167.25 743.04L168.70 743.76L170.15 744.45L171.60 745.12L173.05 745.77L174.50 746.40L175.95 747.00L177.40 747.59L178.85 748.16L180.30 748.71L181.75 749.25L183.21 749.77L184.66 750.27L186.11 750.76L187.56 751.23L189.01 751.70L190.46 752.15L191.91 752.58L193.36 753.01L194.81 753.42L196.26 753.82L197.71 754.22L199.16 754.60L200.61 754.97L202.07 755.33L203.52 755.69L204.97 756.03L206.42 756.37L207.87 756.70L209.32 757.02L210.77 757.34L212.22 757.64L213.67 757.94L215.12 758.24L216.57 758.52L218.02 758.80L219.48 759.08L220.93 759.34L222.38 759.61L223.83 759.86L225.28 760.12L226.73 760.36L228.18 760.60L229.63 760.84L231.08 761.07L232.53 761.30L233.98 761.52L235.43 761.74L236.88 761.95L238.34 762.16L239.79 762.37L241.24 762.57L242.69 762.77L244.14 762.97L245.59 763.16L247.04 763.35" fill="none" stroke="#1812d0" stroke-width="2.05" stroke-linejoin="round" stroke-linecap="butt"/>
</g>
<path d="M83.62 601.60V794.25" stroke="#111" stroke-width="2.1" stroke-dasharray="2 1.7" fill="none"/>
<path d="M53.0 750.80H150.20" stroke="#111" stroke-width="2.1" stroke-dasharray="2 1.7" fill="none"/>
<circle cx="83.62" cy="601.60" r="3.2" fill="#111"/>
<circle cx="150.20" cy="750.80" r="3.2" fill="#111"/>
<text class="s" transform="translate(86.90,841.50) scale(1.051,1)" font-size="17.4" fill="#111" stroke="#111" stroke-width="0.31" vector-effect="non-scaling-stroke">Thickness (nm)</text>
<text class="s" transform="translate(15.30,724.90) rotate(-90) scale(1.027,1)" font-size="17.4" fill="#111" stroke="#111" stroke-width="0.31" vector-effect="non-scaling-stroke">Selectivity</text>
<text class="s" transform="translate(215.83,606.00) scale(1.084,1)" font-size="25.8" fill="#111" stroke="#111" stroke-width="0.46" vector-effect="non-scaling-stroke">d.</text>
<text class="s" transform="translate(104.95,613.80) scale(1.039,1)" font-size="21.7" fill="#111" stroke="#111" stroke-width="0.39" vector-effect="non-scaling-stroke">Al<tspan font-size="14.0" dy="4.90">2</tspan><tspan dy="-4.90">O</tspan><tspan font-size="14.0" dy="4.90">3</tspan></text>
<text class="r" transform="translate(272.06,325.00) scale(0.790,1)" font-size="23.9" fill="#111" stroke="#111" stroke-width="0.45" vector-effect="non-scaling-stroke" font-style="italic">G</text>
<text class="r" transform="translate(278.73,306.28) scale(1.208,1)" font-size="20" fill="#111" stroke="#111" stroke-width="0.34" vector-effect="non-scaling-stroke">.</text>
<text class="r" transform="translate(294.74,326.80) scale(1.335,1)" font-size="23.9" fill="#111" stroke="#111" stroke-width="0.95" vector-effect="non-scaling-stroke">=</text>
<text class="r" transform="translate(321.18,325.60) scale(1.121,1)" font-size="23.9" fill="#111" stroke="#111" stroke-width="0.41" vector-effect="non-scaling-stroke">0.095</text>
<text class="r" transform="translate(388.23,325.60) scale(1.089,1)" font-size="23.9" fill="#111" stroke="#111" stroke-width="0.41" vector-effect="non-scaling-stroke">nm</text>
<text class="r" transform="translate(429.45,325.60) scale(1.046,1)" font-size="23.9" fill="#111" stroke="#111" stroke-width="0.41" vector-effect="non-scaling-stroke">cyc</text>
<text class="r" transform="translate(465.63,317.00) scale(1.303,1)" font-size="16.8" fill="#111" stroke="#111" stroke-width="0.42" vector-effect="non-scaling-stroke">&#8722;1</text>
<text class="r" transform="translate(272.39,356.50) scale(0.985,1)" font-size="23.9" fill="#111" stroke="#111" stroke-width="0.45" vector-effect="non-scaling-stroke" font-style="italic">N</text>
<text class="r" transform="translate(276.53,355.75) scale(1.132,1)" font-size="30" fill="#111" stroke="#111" stroke-width="0.51" vector-effect="non-scaling-stroke">ˆ</text>
<text class="r" transform="translate(298.24,357.70) scale(1.335,1)" font-size="23.9" fill="#111" stroke="#111" stroke-width="0.95" vector-effect="non-scaling-stroke">=</text>
<text class="r" transform="translate(324.70,356.50) scale(1.101,1)" font-size="23.9" fill="#111" stroke="#111" stroke-width="0.41" vector-effect="non-scaling-stroke">0.018</text>
<text class="r" transform="translate(390.86,356.50) scale(1.209,1)" font-size="23.9" fill="#111" stroke="#111" stroke-width="0.41" vector-effect="non-scaling-stroke">n<tspan font-style="italic">m</tspan></text>
<text class="r" transform="translate(426.94,348.50) scale(1.290,1)" font-size="16.8" fill="#111" stroke="#111" stroke-width="0.42" vector-effect="non-scaling-stroke">&#8722;2</text>
<text class="r" transform="translate(272.39,387.00) scale(0.985,1)" font-size="23.9" fill="#111" stroke="#111" stroke-width="0.45" vector-effect="non-scaling-stroke" font-style="italic">N</text>
<text class="r" transform="translate(279.54,368.88) scale(1.125,1)" font-size="20" fill="#111" stroke="#111" stroke-width="0.34" vector-effect="non-scaling-stroke">.</text>
<text class="r" transform="translate(287.67,392.80) scale(1.151,1)" font-size="16.8" fill="#111" stroke="#111" stroke-width="0.29" vector-effect="non-scaling-stroke">0</text>
<text class="r" transform="translate(305.84,388.20) scale(1.335,1)" font-size="23.9" fill="#111" stroke="#111" stroke-width="0.95" vector-effect="non-scaling-stroke">=</text>
<text class="r" transform="translate(331.56,387.00) scale(1.145,1)" font-size="23.9" fill="#111" stroke="#111" stroke-width="0.41" vector-effect="non-scaling-stroke">0</text>
<text class="r" transform="translate(351.90,387.00) scale(1.198,1)" font-size="23.9" fill="#111" stroke="#111" stroke-width="0.45" vector-effect="non-scaling-stroke" font-style="italic">nm</text>
<text class="r" transform="translate(388.16,378.80) scale(1.259,1)" font-size="16.8" fill="#111" stroke="#111" stroke-width="0.42" vector-effect="non-scaling-stroke">&#8722;2</text>
<text class="r" transform="translate(411.45,387.00) scale(1.182,1)" font-size="23.9" fill="#111" stroke="#111" stroke-width="0.45" vector-effect="non-scaling-stroke" font-style="italic">cyc</text>
<text class="r" transform="translate(452.37,378.80) scale(1.253,1)" font-size="16.8" fill="#111" stroke="#111" stroke-width="0.42" vector-effect="non-scaling-stroke">&#8722;1</text>
<text class="r" transform="translate(270.18,419.30) scale(1.235,1)" font-size="23.9" fill="#111" stroke="#111" stroke-width="0.41" vector-effect="non-scaling-stroke">τ</text>
<text class="r" transform="translate(281.80,423.71) scale(1.274,1)" font-size="18.5" fill="#111" stroke="#111" stroke-width="0.35" vector-effect="non-scaling-stroke" font-style="italic">g</text>
<text class="r" transform="translate(301.63,420.50) scale(1.344,1)" font-size="23.9" fill="#111" stroke="#111" stroke-width="0.95" vector-effect="non-scaling-stroke">=</text>
<text class="r" transform="translate(327.47,419.30) scale(1.135,1)" font-size="23.9" fill="#111" stroke="#111" stroke-width="0.41" vector-effect="non-scaling-stroke">0</text>
<text class="r" transform="translate(347.85,419.30) scale(1.043,1)" font-size="23.9" fill="#111" stroke="#111" stroke-width="0.41" vector-effect="non-scaling-stroke">cy<tspan font-style="italic">c</tspan></text>
<text class="r" transform="translate(270.95,453.30) scale(1.313,1)" font-size="23.9" fill="#111" stroke="#111" stroke-width="0.45" vector-effect="non-scaling-stroke" font-style="italic">t</text>
<text class="r" transform="translate(280.87,458.20) scale(1.258,1)" font-size="16.8" fill="#111" stroke="#111" stroke-width="0.32" vector-effect="non-scaling-stroke" font-style="italic">S</text>
<text class="r" transform="translate(291.47,458.40) scale(1.377,1)" font-size="16.8" fill="#111" stroke="#111" stroke-width="0.60" vector-effect="non-scaling-stroke">=</text>
<text class="r" transform="translate(304.95,458.20) scale(1.174,1)" font-size="16.8" fill="#111" stroke="#111" stroke-width="0.29" vector-effect="non-scaling-stroke">0.9</text>
<text class="r" transform="translate(337.91,454.50) scale(1.442,1)" font-size="23.9" fill="#111" stroke="#111" stroke-width="0.95" vector-effect="non-scaling-stroke">=</text>
<text class="r" transform="translate(362.66,453.30) scale(1.077,1)" font-size="23.9" fill="#111" stroke="#111" stroke-width="0.41" vector-effect="non-scaling-stroke">1.1</text>
<text class="r" transform="translate(401.27,453.30) scale(1.227,1)" font-size="23.9" fill="#111" stroke="#111" stroke-width="0.45" vector-effect="non-scaling-stroke" font-style="italic">nm</text>
<text class="r" transform="translate(270.57,481.80) scale(1.238,1)" font-size="23.9" fill="#111" stroke="#111" stroke-width="0.45" vector-effect="non-scaling-stroke" font-style="italic">S</text>
<text class="r" transform="translate(285.34,487.70) scale(1.331,1)" font-size="16.8" fill="#111" stroke="#111" stroke-width="0.32" vector-effect="non-scaling-stroke" font-style="italic">t</text>
<text class="r" transform="translate(293.16,487.90) scale(1.389,1)" font-size="16.8" fill="#111" stroke="#111" stroke-width="0.60" vector-effect="non-scaling-stroke">=</text>
<text class="r" transform="translate(306.28,487.70) scale(1.177,1)" font-size="16.8" fill="#111" stroke="#111" stroke-width="0.29" vector-effect="non-scaling-stroke">10</text>
<text class="r" transform="translate(325.86,487.70) scale(1.428,1)" font-size="16.8" fill="#111" stroke="#111" stroke-width="0.32" vector-effect="non-scaling-stroke" font-style="italic">nm</text>
<text class="r" transform="translate(364.36,483.00) scale(1.317,1)" font-size="23.9" fill="#111" stroke="#111" stroke-width="0.95" vector-effect="non-scaling-stroke">=</text>
<text class="r" transform="translate(391.59,481.80) scale(1.178,1)" font-size="23.9" fill="#111" stroke="#111" stroke-width="0.41" vector-effect="non-scaling-stroke">(0.05)</text>
<text class="r" transform="translate(272.06,601.50) scale(0.790,1)" font-size="23.9" fill="#111" stroke="#111" stroke-width="0.45" vector-effect="non-scaling-stroke" font-style="italic">G</text>
<text class="r" transform="translate(278.73,582.78) scale(1.208,1)" font-size="20" fill="#111" stroke="#111" stroke-width="0.34" vector-effect="non-scaling-stroke">.</text>
<text class="r" transform="translate(294.74,603.30) scale(1.335,1)" font-size="23.9" fill="#111" stroke="#111" stroke-width="0.95" vector-effect="non-scaling-stroke">=</text>
<text class="r" transform="translate(321.18,602.10) scale(1.121,1)" font-size="23.9" fill="#111" stroke="#111" stroke-width="0.41" vector-effect="non-scaling-stroke">0.095</text>
<text class="r" transform="translate(388.23,602.10) scale(1.089,1)" font-size="23.9" fill="#111" stroke="#111" stroke-width="0.41" vector-effect="non-scaling-stroke">nm</text>
<text class="r" transform="translate(429.45,602.10) scale(1.046,1)" font-size="23.9" fill="#111" stroke="#111" stroke-width="0.41" vector-effect="non-scaling-stroke">cyc</text>
<text class="r" transform="translate(465.63,593.50) scale(1.303,1)" font-size="16.8" fill="#111" stroke="#111" stroke-width="0.42" vector-effect="non-scaling-stroke">&#8722;1</text>
<text class="r" transform="translate(272.39,633.00) scale(0.985,1)" font-size="23.9" fill="#111" stroke="#111" stroke-width="0.45" vector-effect="non-scaling-stroke" font-style="italic">N</text>
<text class="r" transform="translate(276.53,632.25) scale(1.132,1)" font-size="30" fill="#111" stroke="#111" stroke-width="0.51" vector-effect="non-scaling-stroke">ˆ</text>
<text class="r" transform="translate(298.24,634.20) scale(1.335,1)" font-size="23.9" fill="#111" stroke="#111" stroke-width="0.95" vector-effect="non-scaling-stroke">=</text>
<text class="r" transform="translate(324.70,633.00) scale(1.096,1)" font-size="23.9" fill="#111" stroke="#111" stroke-width="0.41" vector-effect="non-scaling-stroke">0.007</text>
<text class="r" transform="translate(390.86,633.00) scale(1.209,1)" font-size="23.9" fill="#111" stroke="#111" stroke-width="0.41" vector-effect="non-scaling-stroke">n<tspan font-style="italic">m</tspan></text>
<text class="r" transform="translate(426.94,625.00) scale(1.290,1)" font-size="16.8" fill="#111" stroke="#111" stroke-width="0.42" vector-effect="non-scaling-stroke">&#8722;2</text>
<text class="r" transform="translate(272.39,663.50) scale(0.985,1)" font-size="23.9" fill="#111" stroke="#111" stroke-width="0.45" vector-effect="non-scaling-stroke" font-style="italic">N</text>
<text class="r" transform="translate(279.54,645.38) scale(1.125,1)" font-size="20" fill="#111" stroke="#111" stroke-width="0.34" vector-effect="non-scaling-stroke">.</text>
<text class="r" transform="translate(287.67,669.30) scale(1.151,1)" font-size="16.8" fill="#111" stroke="#111" stroke-width="0.29" vector-effect="non-scaling-stroke">0</text>
<text class="r" transform="translate(305.84,664.70) scale(1.335,1)" font-size="23.9" fill="#111" stroke="#111" stroke-width="0.95" vector-effect="non-scaling-stroke">=</text>
<text class="r" transform="translate(331.56,663.50) scale(1.145,1)" font-size="23.9" fill="#111" stroke="#111" stroke-width="0.41" vector-effect="non-scaling-stroke">0</text>
<text class="r" transform="translate(351.90,663.50) scale(1.198,1)" font-size="23.9" fill="#111" stroke="#111" stroke-width="0.45" vector-effect="non-scaling-stroke" font-style="italic">nm</text>
<text class="r" transform="translate(388.16,655.30) scale(1.259,1)" font-size="16.8" fill="#111" stroke="#111" stroke-width="0.42" vector-effect="non-scaling-stroke">&#8722;2</text>
<text class="r" transform="translate(411.45,663.50) scale(1.182,1)" font-size="23.9" fill="#111" stroke="#111" stroke-width="0.45" vector-effect="non-scaling-stroke" font-style="italic">cyc</text>
<text class="r" transform="translate(452.37,655.30) scale(1.253,1)" font-size="16.8" fill="#111" stroke="#111" stroke-width="0.42" vector-effect="non-scaling-stroke">&#8722;1</text>
<text class="r" transform="translate(270.18,695.80) scale(1.235,1)" font-size="23.9" fill="#111" stroke="#111" stroke-width="0.41" vector-effect="non-scaling-stroke">τ</text>
<text class="r" transform="translate(281.80,700.21) scale(1.274,1)" font-size="18.5" fill="#111" stroke="#111" stroke-width="0.35" vector-effect="non-scaling-stroke" font-style="italic">g</text>
<text class="r" transform="translate(301.63,697.00) scale(1.344,1)" font-size="23.9" fill="#111" stroke="#111" stroke-width="0.95" vector-effect="non-scaling-stroke">=</text>
<text class="r" transform="translate(327.47,695.80) scale(1.135,1)" font-size="23.9" fill="#111" stroke="#111" stroke-width="0.41" vector-effect="non-scaling-stroke">0</text>
<text class="r" transform="translate(347.85,695.80) scale(1.043,1)" font-size="23.9" fill="#111" stroke="#111" stroke-width="0.41" vector-effect="non-scaling-stroke">cy<tspan font-style="italic">c</tspan></text>
<text class="r" transform="translate(270.95,729.80) scale(1.313,1)" font-size="23.9" fill="#111" stroke="#111" stroke-width="0.45" vector-effect="non-scaling-stroke" font-style="italic">t</text>
<text class="r" transform="translate(280.87,734.70) scale(1.258,1)" font-size="16.8" fill="#111" stroke="#111" stroke-width="0.32" vector-effect="non-scaling-stroke" font-style="italic">S</text>
<text class="r" transform="translate(291.47,734.90) scale(1.377,1)" font-size="16.8" fill="#111" stroke="#111" stroke-width="0.60" vector-effect="non-scaling-stroke">=</text>
<text class="r" transform="translate(304.95,734.70) scale(1.174,1)" font-size="16.8" fill="#111" stroke="#111" stroke-width="0.29" vector-effect="non-scaling-stroke">0.9</text>
<text class="r" transform="translate(337.91,731.00) scale(1.442,1)" font-size="23.9" fill="#111" stroke="#111" stroke-width="0.95" vector-effect="non-scaling-stroke">=</text>
<text class="r" transform="translate(362.70,729.80) scale(1.056,1)" font-size="23.9" fill="#111" stroke="#111" stroke-width="0.41" vector-effect="non-scaling-stroke">1.8</text>
<text class="r" transform="translate(401.27,729.80) scale(1.227,1)" font-size="23.9" fill="#111" stroke="#111" stroke-width="0.45" vector-effect="non-scaling-stroke" font-style="italic">nm</text>
<text class="r" transform="translate(270.57,758.30) scale(1.238,1)" font-size="23.9" fill="#111" stroke="#111" stroke-width="0.45" vector-effect="non-scaling-stroke" font-style="italic">S</text>
<text class="r" transform="translate(285.34,764.20) scale(1.331,1)" font-size="16.8" fill="#111" stroke="#111" stroke-width="0.32" vector-effect="non-scaling-stroke" font-style="italic">t</text>
<text class="r" transform="translate(293.16,764.40) scale(1.389,1)" font-size="16.8" fill="#111" stroke="#111" stroke-width="0.60" vector-effect="non-scaling-stroke">=</text>
<text class="r" transform="translate(306.28,764.20) scale(1.177,1)" font-size="16.8" fill="#111" stroke="#111" stroke-width="0.29" vector-effect="non-scaling-stroke">10</text>
<text class="r" transform="translate(325.86,764.20) scale(1.428,1)" font-size="16.8" fill="#111" stroke="#111" stroke-width="0.32" vector-effect="non-scaling-stroke" font-style="italic">nm</text>
<text class="r" transform="translate(364.36,759.50) scale(1.317,1)" font-size="23.9" fill="#111" stroke="#111" stroke-width="0.95" vector-effect="non-scaling-stroke">=</text>
<text class="r" transform="translate(391.59,758.30) scale(1.178,1)" font-size="23.9" fill="#111" stroke="#111" stroke-width="0.41" vector-effect="non-scaling-stroke">(0.17)</text>
</svg>
</body></html>
